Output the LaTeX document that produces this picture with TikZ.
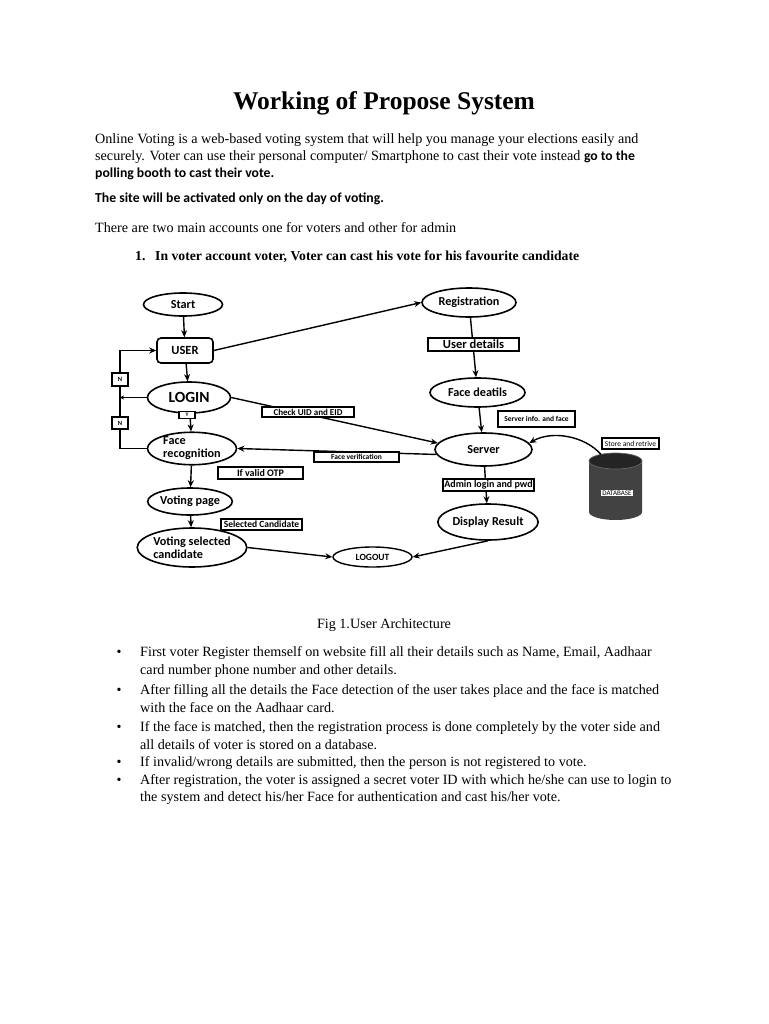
\documentclass[tikz,border=0pt]{standalone}
\usepackage{fontspec}
\setmainfont{Liberation Serif}
\newfontfamily\calib{Carlito}
\usepackage{tikz}
\usetikzlibrary{shapes.geometric,arrows.meta,positioning,calc}

\begin{document}
\begin{tikzpicture}[x=1pt,y=-1pt,
  oval/.style={ellipse,draw,line width=1.6pt,inner sep=0pt,
               font=\calib\bfseries\fontsize{12.2}{13}\selectfont},
  rbox/.style={draw,line width=1.6pt,rounded corners=4pt,inner sep=0pt,
               font=\calib\bfseries\fontsize{12.5}{13}\selectfont},
  tag/.style={draw,line width=1.1pt,fill=white,inner sep=0pt,
              font=\calib\bfseries\fontsize{8}{9}\selectfont},
  arr/.style={-{Stealth[length=7pt,width=6pt]},line width=1.4pt},
  txt/.style={anchor=base west,inner sep=0pt,font=\fontsize{14.15}{17}\selectfont},
  btxt/.style={anchor=base west,inner sep=0pt,font=\calib\bfseries\fontsize{13.7}{16}\selectfont}
]
\useasboundingbox[fill=white] (0,0) rectangle (768,1024);

% Titulo y texto
\node[font=\bfseries\fontsize{25.5}{28}\selectfont,anchor=base] (title) at (384,110) {Working of Propose System};
\node[txt] (p1) at (95,144) {Online Voting is a web-based voting system that will help you manage your elections easily and};
\node[txt] (p2) at (95,161) {securely. Voter can use their personal computer/ Smartphone to cast their vote instead {\calib\bfseries\fontsize{13.7}{16}\selectfont go to the}};
\node[btxt] (p3) at (95,178) {polling booth to cast their vote.};
\node[btxt] (p4) at (95,203) {The site will be activated only on the day of voting.};
\node[txt] (p5) at (95,233) {There are two main accounts one for voters and other for admin};
\node[txt,font=\bfseries\fontsize{13.7}{17}\selectfont] (num) at (135,260) {1.};
\node[txt,font=\bfseries\fontsize{13.7}{17}\selectfont] (p6) at (155,260) {In voter account voter, Voter can cast his vote for his favourite candidate};

% Lado del votante (izquierda)
\node[oval,minimum width=79,minimum height=23] (start) at (183,304.5) {Start};
\node[rbox,minimum width=56,minimum height=25] (user) at (185,350.5) {USER};
\node[oval,minimum width=83,minimum height=31,font=\calib\bfseries\fontsize{15.5}{16}\selectfont] (login) at (189,397.5) {LOGIN};
\node[oval,minimum width=89,minimum height=31,align=left] (fr) at (192,448.5) {Face\\recognition};
\node[oval,minimum width=81,minimum height=27] (vp) at (190,501.5) {Voting page};
\node[oval,minimum width=95,minimum height=39,align=left] (vsc) at (192,547.5) {Voting selected\\candidate};
\node[oval,minimum width=79,minimum height=20,line width=1.4pt,font=\calib\bfseries\fontsize{9.5}{10}\selectfont] (logout) at (372.5,557) {LOGOUT};

% Registro y servidor (derecha)
\node[oval,minimum width=94,minimum height=29] (reg) at (469,302.5) {Registration};
\node[oval,minimum width=95,minimum height=29] (fd) at (477.5,392.5) {Face deatils};
\node[oval,minimum width=97,minimum height=33] (srv) at (483.5,449.5) {Server};
\node[oval,minimum width=90,minimum height=36] (dr) at (488,522) {Display Result};

% Base de datos
\fill[black!74] (589,461) -- (589,512) arc[start angle=180,end angle=0,x radius=26.5,y radius=8] -- (642,461) -- cycle;
\fill[black!86] (615.5,461) ellipse[x radius=26.5,y radius=8];
\draw[line width=0.7pt,black!60] (615.5,461) ellipse[x radius=26.5,y radius=8];
\coordinate (dbtop) at (601,454.5);
\node[fill=white,inner sep=1pt,font=\calib\fontsize{7}{8}\selectfont] (dbl) at (617,493) {DATABASE};

% Camino de vuelta (N)
\coordinate (lt) at (120,350.5);
\draw[arr] (fr.west) -| (lt) -- (user.west);
\draw[-{Stealth[length=4pt,width=4pt]},line width=1pt] (login.west) -- (login.west -| lt);

% Flechas
\draw[arr] (start) -- (user);
\draw[arr] (user) -- (login);
\draw[arr] (login) -- (fr);
\draw[arr] (fr) -- (vp);
\draw[arr] (vp) -- (vsc);
\draw[arr] (vsc.east) -- (logout.west);
\draw[arr] (dr.south) -- (logout.east);
\draw[arr] (user.east) -- (reg.west);
\draw[arr] (reg) -- (fd);
\draw[arr] (fd) -- (srv);
\draw[arr] (srv) -- (dr);
\draw[arr] (login.east) -- (srv.172);
\draw[arr] (srv.186) -- (fr.east);
\draw[arr] (dbtop) .. controls (585,436) and (552,430) .. (srv.8);

% Etiquetas
\node[tag,minimum width=16,minimum height=13,font=\calib\bfseries\fontsize{6.5}{7}\selectfont] (n1) at (120,379.5) {N};
\node[tag,minimum width=16,minimum height=12,font=\calib\bfseries\fontsize{6.5}{7}\selectfont] (n2) at (120,423) {N};
\node[tag,minimum width=16,minimum height=7,font=\calib\bfseries\fontsize{5.5}{6}\selectfont] (yes) at (187,415) {Y};
\node[tag,minimum width=92,minimum height=10,font=\calib\bfseries\fontsize{9}{9}\selectfont] (uid) at (308,412) {Check UID and EID};
\node[tag,minimum width=85,minimum height=10,font=\calib\bfseries\fontsize{7.5}{8}\selectfont] (fv) at (356.5,457) {Face verification};
\node[tag,minimum width=85,minimum height=12,font=\calib\bfseries\fontsize{10}{11}\selectfont] (otp) at (260.5,473) {If valid OTP};
\node[tag,minimum width=81,minimum height=11,font=\calib\bfseries\fontsize{9.5}{10}\selectfont] (sel) at (261.5,524.5) {Selected Candidate};
\node[tag,minimum width=91,minimum height=13,font=\calib\bfseries\fontsize{12.5}{13}\selectfont] (ud) at (473.5,344.5) {User details};
\node[tag,minimum width=77,minimum height=16,font=\calib\bfseries\fontsize{7.5}{8}\selectfont] (sif) at (536.5,419) {Server info. and face};
\node[tag,minimum width=91,minimum height=12,font=\calib\bfseries\fontsize{10}{11}\selectfont] (adm) at (488.5,485) {Admin login and pwd};
\node[tag,minimum width=57,minimum height=11,font=\calib\fontsize{7.5}{8}\selectfont] (sr) at (630.5,443.5) {Store and retrive};

% Pie y puntos
\node[anchor=base,inner sep=0pt,font=\fontsize{14.15}{17}\selectfont] (cap) at (384,628) {Fig 1.User Architecture};
\node[anchor=base,font=\fontsize{14}{17}\selectfont] (d1) at (119,656) {\textbullet};
\node[anchor=base,font=\fontsize{14}{17}\selectfont] (d2) at (119,694) {\textbullet};
\node[anchor=base,font=\fontsize{14}{17}\selectfont] (d3) at (119,731) {\textbullet};
\node[anchor=base,font=\fontsize{14}{17}\selectfont] (d4) at (119,766) {\textbullet};
\node[anchor=base,font=\fontsize{14}{17}\selectfont] (d5) at (119,784) {\textbullet};
\node[txt] (l1) at (140,656) {First voter Register themself on website fill all their details such as Name, Email, Aadhaar};
\node[txt] (l2) at (140,674) {card number phone number and other details.};
\node[txt] (l3) at (140,694) {After filling all the details the Face detection of the user takes place and the face is matched};
\node[txt] (l4) at (140,712) {with the face on the Aadhaar card.};
\node[txt] (l5) at (140,731) {If the face is matched, then the registration process is done completely by the voter side and};
\node[txt] (l6) at (140,749) {all details of voter is stored on a database.};
\node[txt] (l7) at (140,766) {If invalid/wrong details are submitted, then the person is not registered to vote.};
\node[txt] (l8) at (140,784) {After registration, the voter is assigned a secret voter ID with which he/she can use to login to};
\node[txt] (l9) at (140,801) {the system and detect his/her Face for authentication and cast his/her vote.};

\end{tikzpicture}
\end{document}
